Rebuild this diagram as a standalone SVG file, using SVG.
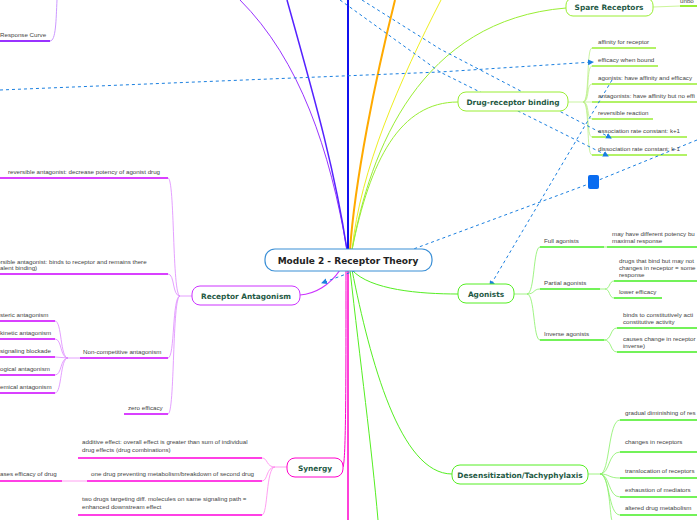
<svg xmlns="http://www.w3.org/2000/svg" width="697" height="520" viewBox="0 0 697 520">
<defs>
<marker id="ah" markerWidth="6" markerHeight="6" refX="5" refY="3" orient="auto"><path d="M0,0 L6,3 L0,6 z" fill="#1a7fe0"/></marker>
<style>
.t{font-family:"Liberation Sans",Arial,sans-serif;font-size:6.2px;fill:#444}
.n{font-family:"DejaVu Sans",Verdana,sans-serif;font-size:7.4px;font-weight:bold;fill:#1f5a45;text-anchor:middle}
.d{fill:none;stroke:#1a7fe0;stroke-width:1;stroke-dasharray:3,3}
.f{fill:none}
</style>
</defs>
<g id="connectors" class="f">
<path d="M347,250 C330,150 300,60 240,0" stroke="#9933ff" stroke-width="1"/>
<path d="M347,250 C335,170 315,100 287,0" stroke="#5522ff" stroke-width="1.5"/>
<path d="M348,250 L348,0" stroke="#1111ee" stroke-width="2"/>
<path d="M350,250 C355,180 375,80 395,0" stroke="#ffaa00" stroke-width="2"/>
<path d="M352,250 C360,170 400,80 441,0" stroke="#eeee22" stroke-width="1"/>
<path d="M352,250 C370,150 420,20 566,8" stroke="#99ee33" stroke-width="1"/>
<path d="M352,250 C370,160 400,102 458,102" stroke="#99ee33" stroke-width="1"/>
<path d="M653,7 L680,6" stroke="#ccf599" stroke-width="1"/>
<path d="M680,6 L697,6" stroke="#99ee33" stroke-width="2"/>
<path d="M348,270 L348,520" stroke="#ff00cc" stroke-width="1.5"/>
<path d="M346,270 C346,380 346,460 343,467" stroke="#ff00cc" stroke-width="1"/>
<path d="M340,270 C330,285 315,294 300,295" stroke="#cc33ff" stroke-width="1.2"/>
<path d="M352,270 C370,290 420,294 458,294" stroke="#55ee22" stroke-width="1"/>
<path d="M352,270 C370,360 400,474 452,474" stroke="#55ee22" stroke-width="1"/>
<path d="M350,270 C360,360 372,450 378,520" stroke="#55ee22" stroke-width="1"/>
<path d="M50,41 C56,41 56,20 57,0" stroke="#cc99ff" stroke-width="1"/>
<path d="M0,41 L50,41" stroke="#9933ff" stroke-width="2"/>
<g stroke="#dd88ff" stroke-width="0.8">
<path d="M192,296 L180,296 C172,296 175,178 168,178"/>
<path d="M180,296 C172,296 175,274 168,274"/>
<path d="M180,296 C172,296 175,358 168,358"/>
<path d="M180,296 C172,296 175,414 168,414"/>
<path d="M80,358 L68,358 C60,358 62,321 55,321"/>
<path d="M68,358 C60,358 62,339 55,339"/>
<path d="M68,358 L55,357"/>
<path d="M68,358 C60,358 62,375 55,375"/>
<path d="M68,358 C60,358 62,393 55,393"/>
</g>
<g stroke="#cc00ff" stroke-width="1.5">
<path d="M0,178 L168,178"/><path d="M0,274 L168,274"/><path d="M80,358 L168,358"/><path d="M124,414 L168,414"/>
<path d="M0,321 L55,321"/><path d="M0,339 L55,339"/><path d="M0,357 L55,357"/><path d="M0,375 L55,375"/><path d="M0,393 L55,393"/>
</g>
<g stroke="#ff88ee" stroke-width="0.8">
<path d="M287,467 L275,467 C266,467 268,458 262,458"/>
<path d="M275,467 C266,467 268,481 262,481"/>
<path d="M275,467 C266,467 268,515 262,515"/>
<path d="M62,481 L87,481"/>
</g>
<g stroke="#ff00dd" stroke-width="1.5">
<path d="M78,458 L262,458"/><path d="M87,481 L262,481"/><path d="M78,515 L262,515"/><path d="M0,481 L62,481"/>
</g>
<g stroke="#88f066" stroke-width="0.8">
<path d="M588,474 L600,474 C610,474 608,420 620,420"/>
<path d="M600,474 C610,474 608,452 620,452"/>
<path d="M600,474 C610,474 608,478 620,478"/>
<path d="M600,474 C610,474 608,497 620,497"/>
<path d="M600,474 C610,474 608,515 620,515"/>
<path d="M600,474 C610,474 610,520 612,520"/>
</g>
<g stroke="#44ee22" stroke-width="1.5">
<path d="M620,420 L697,420"/><path d="M620,452 L697,452"/><path d="M620,478 L697,478"/><path d="M620,497 L697,497"/><path d="M620,515 L697,515"/>
</g>
<g stroke="#88f066" stroke-width="0.8">
<path d="M514,294 L527,294 C535,294 533,247 540,247"/>
<path d="M527,294 C535,294 533,289 540,289"/>
<path d="M527,294 C535,294 533,340 540,340"/>
<path d="M604,247 L607,247"/>
<path d="M600,289 L605,289 C610,289 609,281 614,281"/>
<path d="M605,289 C610,289 609,298 614,298"/>
<path d="M604,340 C612,340 610,328 617,328"/>
<path d="M604,340 C612,340 610,352 617,352"/>
</g>
<g stroke="#44ee22" stroke-width="1.5">
<path d="M540,247 L604,247"/><path d="M607,247 L697,247"/><path d="M540,289 L600,289"/><path d="M540,340 L604,340"/>
<path d="M614,281 L697,281"/><path d="M614,298 L662,298"/><path d="M617,328 L697,328"/><path d="M617,352 L697,352"/>
</g>
<g stroke="#bbf088" stroke-width="0.8">
<path d="M568,102 L583,102 C590,102 586,48 592,48"/>
<path d="M583,102 C590,102 586,66 592,66"/>
<path d="M583,102 C590,102 586,84 592,84"/>
<path d="M583,102 L592,102"/>
<path d="M583,102 C590,102 586,119 592,119"/>
<path d="M583,102 C590,102 586,137 592,137"/>
<path d="M583,102 C590,102 586,155 592,155"/>
</g>
<g stroke="#99ee33" stroke-width="1.5">
<path d="M592,48 L656,48"/><path d="M592,66 L658,66"/><path d="M592,84 L697,84"/><path d="M592,102 L697,102"/><path d="M592,119 L653,119"/><path d="M592,137 L687,137"/><path d="M592,155 L687,155"/>
</g>
<path class="d" d="M0,90 L440,72 L593,62" marker-end="url(#ah)"/>
<path class="d" d="M340,0 L440,72 L608,156" marker-end="url(#ah)"/>
<path class="d" d="M362,0 L440,49 L611,138" marker-end="url(#ah)"/>
<path class="d" d="M612,80 L490,286" marker-end="url(#ah)"/>
<path class="d" d="M697,140 L594,182 L322,283" marker-end="url(#ah)"/>
</g>
<rect x="588" y="175" width="11" height="14" rx="2" fill="#0a6cf0"/>
<g id="center"><rect x="265" y="249" width="167" height="22" rx="10" fill="#fff" stroke="#3a8fd6" stroke-width="1.2"/><text x="348" y="263.5" class="n" style="fill:#222;font-size:9px">Module 2 - Receptor Theory</text></g>
<g id="spare"><rect x="566" y="-2" width="87" height="18" rx="7" fill="#fff" stroke="#99ee33"/><text x="609" y="9.5" class="n">Spare Receptors</text><text x="680" y="3" class="t">unbo</text></g>
<g id="binding"><rect x="458" y="92" width="110" height="19" rx="8" fill="#fff" stroke="#99ee33"/><text x="513" y="104.5" class="n">Drug-receptor binding</text>
<text x="598" y="44" class="t">affinity for receptor</text>
<text x="598" y="62" class="t">efficacy when bound</text>
<text x="598" y="80" class="t">agonists: have affinity and efficacy</text>
<text x="598" y="98" class="t">antagonists: have affinity but no effi</text>
<text x="598" y="115" class="t">reversible reaction</text>
<text x="598" y="133" class="t">association rate constant: k+1</text>
<text x="598" y="151" class="t">dissociation rate constant: k-1</text></g>
<g id="agonists"><rect x="458" y="284" width="56" height="19" rx="8" fill="#fff" stroke="#55ee22"/><text x="486" y="296.5" class="n">Agonists</text>
<text x="544" y="243" class="t">Full agonists</text>
<text x="612" y="236" class="t">may have different potency bu</text><text x="612" y="243" class="t">maximal response</text>
<text x="544" y="285" class="t">Partial agonists</text>
<text x="619" y="263" class="t">drugs that bind but may not</text><text x="619" y="270" class="t">changes in receptor = some</text><text x="619" y="277" class="t">response</text>
<text x="619" y="294" class="t">lower efficacy</text>
<text x="544" y="336" class="t">Inverse agonists</text>
<text x="623" y="317" class="t">binds to constitutively acti</text><text x="623" y="324" class="t">constitutive activity</text>
<text x="623" y="341" class="t">causes change in receptor</text><text x="623" y="348" class="t">inverse)</text></g>
<g id="antagonism"><rect x="192" y="286" width="108" height="19" rx="8" fill="#fff" stroke="#cc33ff"/><text x="246" y="298.5" class="n">Receptor Antagonism</text>
<text x="8" y="174" class="t">reversible antagonist: decrease potency of agonist drug</text>
<text x="-3" y="264" class="t">ersible antagonist: binds to receptor and remains there</text><text x="0" y="270" class="t">alent binding)</text>
<text x="83" y="354" class="t">Non-competitive antagonism</text>
<text x="0" y="317" class="t">steric antagonism</text>
<text x="0" y="335" class="t">kinetic antagonism</text>
<text x="0" y="353" class="t">signaling blockade</text>
<text x="0" y="371" class="t">ogical antagonism</text>
<text x="0" y="389" class="t">emical antagonism</text>
<text x="128" y="410" class="t">zero efficacy</text>
<text x="0" y="37" class="t">Response Curve</text></g>
<g id="synergy"><rect x="287" y="458" width="56" height="19" rx="8" fill="#fff" stroke="#ff00cc"/><text x="315" y="470.5" class="n">Synergy</text>
<text x="82" y="444" class="t">additive effect: overall effect is greater than sum of individual</text><text x="82" y="452" class="t">drug effects (drug combinations)</text>
<text x="91" y="476" class="t">one drug preventing metabolism/breakdown of second drug</text>
<text x="0" y="476" class="t">ases efficacy of drug</text>
<text x="82" y="501" class="t">two drugs targeting diff. molecules on same signaling path =</text><text x="82" y="509" class="t">enhanced downstream effect</text></g>
<g id="desens"><rect x="452" y="465" width="136" height="19" rx="8" fill="#fff" stroke="#55ee22"/><text x="520" y="477.5" class="n">Desensitization/Tachyphylaxis</text>
<text x="625" y="415" class="t">gradual diminishing of res</text>
<text x="625" y="444" class="t">changes in receptors</text>
<text x="625" y="473" class="t">translocation of receptors</text>
<text x="625" y="492" class="t">exhaustion of mediators</text>
<text x="625" y="510" class="t">altered drug metabolism</text></g>
</svg>
